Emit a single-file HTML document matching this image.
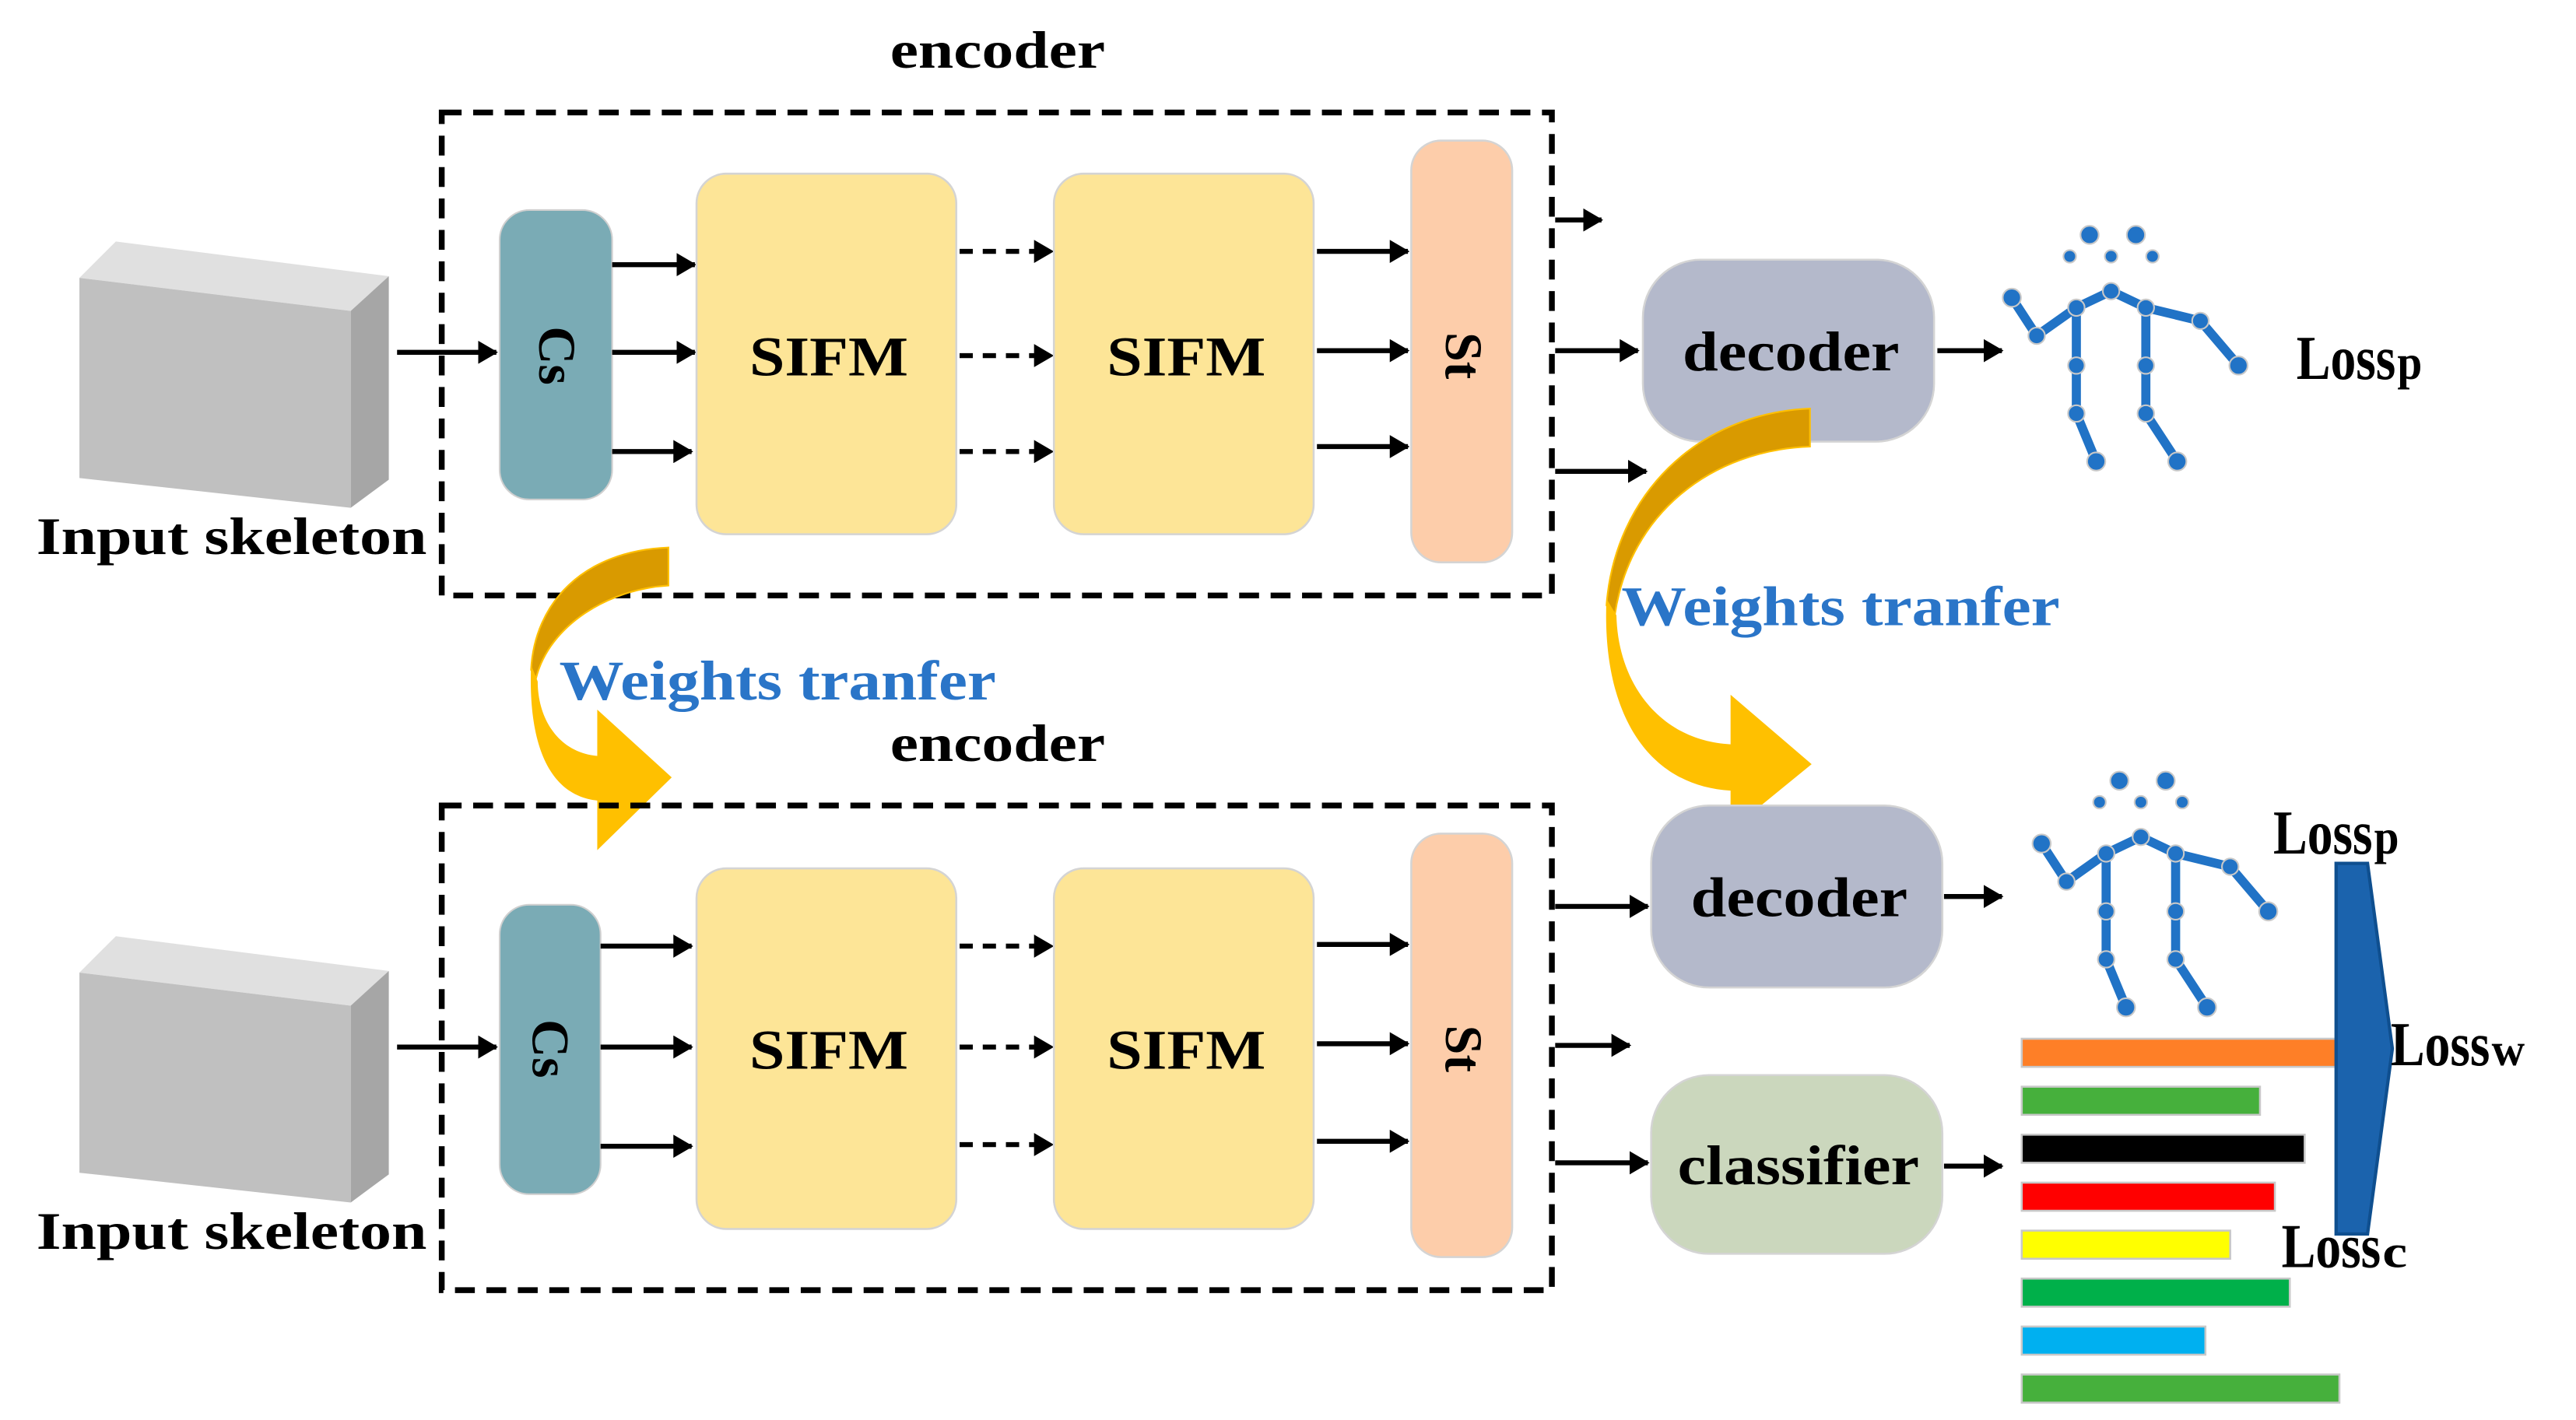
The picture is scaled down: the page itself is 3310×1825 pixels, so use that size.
<!DOCTYPE html>
<html><head><meta charset="utf-8"><style>
html,body{margin:0;padding:0;background:#fff;}
svg{display:block;}
text{font-family:"Liberation Serif",serif;font-weight:bold;}
</style></head><body>
<svg width="3310" height="1825" viewBox="0 0 1557 858.5" preserveAspectRatio="none" xmlns="http://www.w3.org/2000/svg">
<defs>
<marker id="ah" markerWidth="10" markerHeight="10" refX="9" refY="5" orient="auto" markerUnits="userSpaceOnUse" viewBox="0 0 10 10">
<path d="M0,0 L10,5 L0,10 Z" fill="#000"/></marker>
<marker id="ah2" markerWidth="12" markerHeight="14" refX="11" refY="7" orient="auto" markerUnits="userSpaceOnUse" viewBox="0 0 12 14">
<path d="M0,0 L12,7 L0,14 Z" fill="#000"/></marker>
</defs>

<!-- ========== TOP ========== -->
<text x="538" y="41" font-size="32" textLength="130" lengthAdjust="spacingAndGlyphs">encoder</text>
<rect x="267" y="68" width="671" height="292" fill="none" stroke="#000" stroke-width="3.5" stroke-dasharray="12,7"/>

<g>
<polygon points="48,168 70,146 235,167 212,188" fill="#e0e0e0"/>
<polygon points="48,168 212,188 212,307 48,289" fill="#c0c0c0"/>
<polygon points="212,188 235,167 235,290 212,307" fill="#a6a6a6"/>
</g>
<text x="22" y="335" font-size="32" textLength="236" lengthAdjust="spacingAndGlyphs">Input skeleton</text>
<line x1="240" y1="213" x2="300" y2="213" stroke="#000" stroke-width="3" marker-end="url(#ah2)"/>

<rect x="302" y="127" width="68" height="175" rx="18" fill="#7aabb5" stroke="#cfcfcf" stroke-width="1"/>
<text font-size="32" transform="translate(326,215) rotate(90)" text-anchor="middle">Cs</text>

<line x1="370" y1="160" x2="420" y2="160" stroke="#000" stroke-width="3" marker-end="url(#ah2)"/>
<line x1="370" y1="213" x2="420" y2="213" stroke="#000" stroke-width="3" marker-end="url(#ah2)"/>
<line x1="370" y1="273" x2="418" y2="273" stroke="#000" stroke-width="3" marker-end="url(#ah2)"/>

<rect x="421" y="105" width="157" height="218" rx="18" fill="#fde597" stroke="#d4d4d4" stroke-width="1.2"/>
<text x="453" y="227" font-size="34" textLength="96" lengthAdjust="spacingAndGlyphs">SIFM</text>

<line x1="580" y1="152" x2="636" y2="152" stroke="#000" stroke-width="3" stroke-dasharray="8,6" marker-end="url(#ah2)"/>
<line x1="580" y1="215" x2="636" y2="215" stroke="#000" stroke-width="3" stroke-dasharray="8,6" marker-end="url(#ah2)"/>
<line x1="580" y1="273" x2="636" y2="273" stroke="#000" stroke-width="3" stroke-dasharray="8,6" marker-end="url(#ah2)"/>

<rect x="637" y="105" width="157" height="218" rx="18" fill="#fde597" stroke="#d4d4d4" stroke-width="1.2"/>
<text x="669" y="227" font-size="34" textLength="96" lengthAdjust="spacingAndGlyphs">SIFM</text>

<line x1="796" y1="152" x2="851" y2="152" stroke="#000" stroke-width="3" marker-end="url(#ah2)"/>
<line x1="796" y1="212" x2="851" y2="212" stroke="#000" stroke-width="3" marker-end="url(#ah2)"/>
<line x1="796" y1="270" x2="851" y2="270" stroke="#000" stroke-width="3" marker-end="url(#ah2)"/>

<rect x="853" y="85" width="61" height="255" rx="18" fill="#fdcdaa" stroke="#d4d4d4" stroke-width="1.2"/>
<text font-size="32" transform="translate(874,215) rotate(90)" text-anchor="middle">St</text>

<line x1="940" y1="133" x2="968" y2="133" stroke="#000" stroke-width="3" marker-end="url(#ah2)"/>
<line x1="940" y1="212" x2="990" y2="212" stroke="#000" stroke-width="3" marker-end="url(#ah2)"/>
<line x1="940" y1="285" x2="995" y2="285" stroke="#000" stroke-width="3" marker-end="url(#ah2)"/>

<rect x="993" y="157" width="176" height="110" rx="35" fill="#b4b9cb" stroke="#d4d4d4" stroke-width="1.2"/>
<text x="1017" y="224" font-size="34" textLength="131" lengthAdjust="spacingAndGlyphs">decoder</text>
<line x1="1171" y1="212" x2="1210" y2="212" stroke="#000" stroke-width="3" marker-end="url(#ah2)"/>

<g id="skel" stroke="#2173c6" stroke-width="5.5" fill="#2173c6" stroke-linecap="round" stroke-linejoin="round">
<polyline points="1216,180 1231,203 1255,186 1276,176 1297,186 1330,194 1353,221" fill="none"/>
<polyline points="1255,186 1255,221 1255,250 1267,279" fill="none"/>
<polyline points="1297,186 1297,221 1297,250 1316,279" fill="none"/>
<g stroke="#c8c8c8" stroke-width="1">
<circle cx="1263" cy="142" r="5.5"/><circle cx="1291" cy="142" r="5.5"/>
<circle cx="1251" cy="155" r="3.8"/><circle cx="1276" cy="155" r="3.8"/><circle cx="1301" cy="155" r="3.8"/>
<circle cx="1216" cy="180" r="5.5"/><circle cx="1231" cy="203" r="5"/><circle cx="1255" cy="186" r="5"/>
<circle cx="1276" cy="176" r="5"/><circle cx="1297" cy="186" r="5"/><circle cx="1330" cy="194" r="5"/>
<circle cx="1353" cy="221" r="5.5"/><circle cx="1255" cy="221" r="5"/><circle cx="1297" cy="221" r="5"/>
<circle cx="1255" cy="250" r="5"/><circle cx="1297" cy="250" r="5"/>
<circle cx="1267" cy="279" r="5.5"/><circle cx="1316" cy="279" r="5.5"/>
</g></g>
<text x="1388" y="229" font-size="38" textLength="60" lengthAdjust="spacingAndGlyphs">Loss</text>
<text x="1449" y="229" font-size="30" textLength="15" lengthAdjust="spacingAndGlyphs">p</text>

<path d="M404,331 L404,354 C368,356 332,378 324,410 L321,405 C323,365 352,333 404,331 Z" fill="#d99a00" stroke="#ffc000" stroke-width="1"/>
<path d="M321,402 C319,450 332,481 361,484 L361,514 L406,470 L361,429 L361,457 C338,455 325,435 325,412 Z" fill="#ffc000"/>
<text x="338" y="423" font-size="34" fill="#2a75c8" textLength="264" lengthAdjust="spacingAndGlyphs">Weights tranfer</text>

<path d="M1094,247 L1094,270 C1035,272 985,310 976,372 L971,366 C976,300 1025,250 1094,247 Z" fill="#d99a00" stroke="#ffc000" stroke-width="1"/>
<path d="M971,362 C968,430 995,475 1046,478 L1046,502 L1095,462 L1046,420 L1046,450 C1005,448 978,415 977,372 Z" fill="#ffc000"/>
<text x="980" y="378" font-size="34" fill="#2a75c8" textLength="265" lengthAdjust="spacingAndGlyphs">Weights tranfer</text>

<!-- ========== BOTTOM ========== -->
<text x="538" y="460" font-size="32" textLength="130" lengthAdjust="spacingAndGlyphs">encoder</text>
<rect x="267" y="487" width="671" height="293" fill="none" stroke="#000" stroke-width="3.5" stroke-dasharray="12,7"/>

<g transform="translate(0,420)">
<polygon points="48,168 70,146 235,167 212,188" fill="#e0e0e0"/>
<polygon points="48,168 212,188 212,307 48,289" fill="#c0c0c0"/>
<polygon points="212,188 235,167 235,290 212,307" fill="#a6a6a6"/>
</g>
<text x="22" y="755" font-size="32" textLength="236" lengthAdjust="spacingAndGlyphs">Input skeleton</text>
<line x1="240" y1="633" x2="300" y2="633" stroke="#000" stroke-width="3" marker-end="url(#ah2)"/>

<rect x="302" y="547" width="61" height="175" rx="18" fill="#7aabb5" stroke="#cfcfcf" stroke-width="1"/>
<text font-size="32" transform="translate(322,634) rotate(90)" text-anchor="middle">Cs</text>

<line x1="363" y1="572" x2="418" y2="572" stroke="#000" stroke-width="3" marker-end="url(#ah2)"/>
<line x1="363" y1="633" x2="418" y2="633" stroke="#000" stroke-width="3" marker-end="url(#ah2)"/>
<line x1="363" y1="693" x2="418" y2="693" stroke="#000" stroke-width="3" marker-end="url(#ah2)"/>

<rect x="421" y="525" width="157" height="218" rx="18" fill="#fde597" stroke="#d4d4d4" stroke-width="1.2"/>
<text x="453" y="646" font-size="34" textLength="96" lengthAdjust="spacingAndGlyphs">SIFM</text>

<line x1="580" y1="572" x2="636" y2="572" stroke="#000" stroke-width="3" stroke-dasharray="8,6" marker-end="url(#ah2)"/>
<line x1="580" y1="633" x2="636" y2="633" stroke="#000" stroke-width="3" stroke-dasharray="8,6" marker-end="url(#ah2)"/>
<line x1="580" y1="692" x2="636" y2="692" stroke="#000" stroke-width="3" stroke-dasharray="8,6" marker-end="url(#ah2)"/>

<rect x="637" y="525" width="157" height="218" rx="18" fill="#fde597" stroke="#d4d4d4" stroke-width="1.2"/>
<text x="669" y="646" font-size="34" textLength="96" lengthAdjust="spacingAndGlyphs">SIFM</text>

<line x1="796" y1="571" x2="851" y2="571" stroke="#000" stroke-width="3" marker-end="url(#ah2)"/>
<line x1="796" y1="631" x2="851" y2="631" stroke="#000" stroke-width="3" marker-end="url(#ah2)"/>
<line x1="796" y1="690" x2="851" y2="690" stroke="#000" stroke-width="3" marker-end="url(#ah2)"/>

<rect x="853" y="504" width="61" height="256" rx="18" fill="#fdcdaa" stroke="#d4d4d4" stroke-width="1.2"/>
<text font-size="32" transform="translate(874,634) rotate(90)" text-anchor="middle">St</text>

<line x1="940" y1="548" x2="996" y2="548" stroke="#000" stroke-width="3" marker-end="url(#ah2)"/>
<line x1="940" y1="632" x2="985" y2="632" stroke="#000" stroke-width="3" marker-end="url(#ah2)"/>
<line x1="940" y1="703" x2="996" y2="703" stroke="#000" stroke-width="3" marker-end="url(#ah2)"/>

<rect x="998" y="487" width="176" height="110" rx="35" fill="#b4b9cb" stroke="#d4d4d4" stroke-width="1.2"/>
<text x="1022" y="554" font-size="34" textLength="131" lengthAdjust="spacingAndGlyphs">decoder</text>
<rect x="998" y="650" width="176" height="108" rx="35" fill="#cbd7bd" stroke="#d4d4d4" stroke-width="1.2"/>
<text x="1014" y="716" font-size="34" textLength="146" lengthAdjust="spacingAndGlyphs">classifier</text>
<line x1="1175" y1="542" x2="1210" y2="542" stroke="#000" stroke-width="3" marker-end="url(#ah2)"/>
<line x1="1175" y1="705" x2="1210" y2="705" stroke="#000" stroke-width="3" marker-end="url(#ah2)"/>

<use href="#skel" transform="translate(18,330)"/>

<g stroke="#c8c8c8" stroke-width="1.2">
<rect x="1222" y="628" width="192" height="17" fill="#fe7f27"/>
<rect x="1222" y="657" width="144" height="17" fill="#46b03c"/>
<rect x="1222" y="686" width="171" height="17" fill="#000"/>
<rect x="1222" y="715" width="153" height="17" fill="#ff0000"/>
<rect x="1222" y="744" width="126" height="17" fill="#ffff00"/>
<rect x="1222" y="773" width="162" height="17" fill="#00b04a"/>
<rect x="1222" y="802" width="111" height="17" fill="#00b0f0"/>
<rect x="1222" y="831" width="192" height="17" fill="#46b03c"/>
</g>

<polygon points="1412,522 1431,522 1446,634 1431,746 1412,746" fill="#1b63ad" stroke="#0f4f8f" stroke-width="2"/>

<text x="1374" y="516" font-size="38" textLength="60" lengthAdjust="spacingAndGlyphs">Loss</text>
<text x="1435" y="516" font-size="30" textLength="15" lengthAdjust="spacingAndGlyphs">p</text>
<text x="1445" y="644" font-size="38" textLength="60" lengthAdjust="spacingAndGlyphs">Loss</text>
<text x="1506" y="644" font-size="28" textLength="20" lengthAdjust="spacingAndGlyphs">w</text>
<text x="1379" y="766" font-size="38" textLength="60" lengthAdjust="spacingAndGlyphs">Loss</text>
<text x="1440" y="766" font-size="28" textLength="15" lengthAdjust="spacingAndGlyphs">c</text>
</svg>
</body></html>
